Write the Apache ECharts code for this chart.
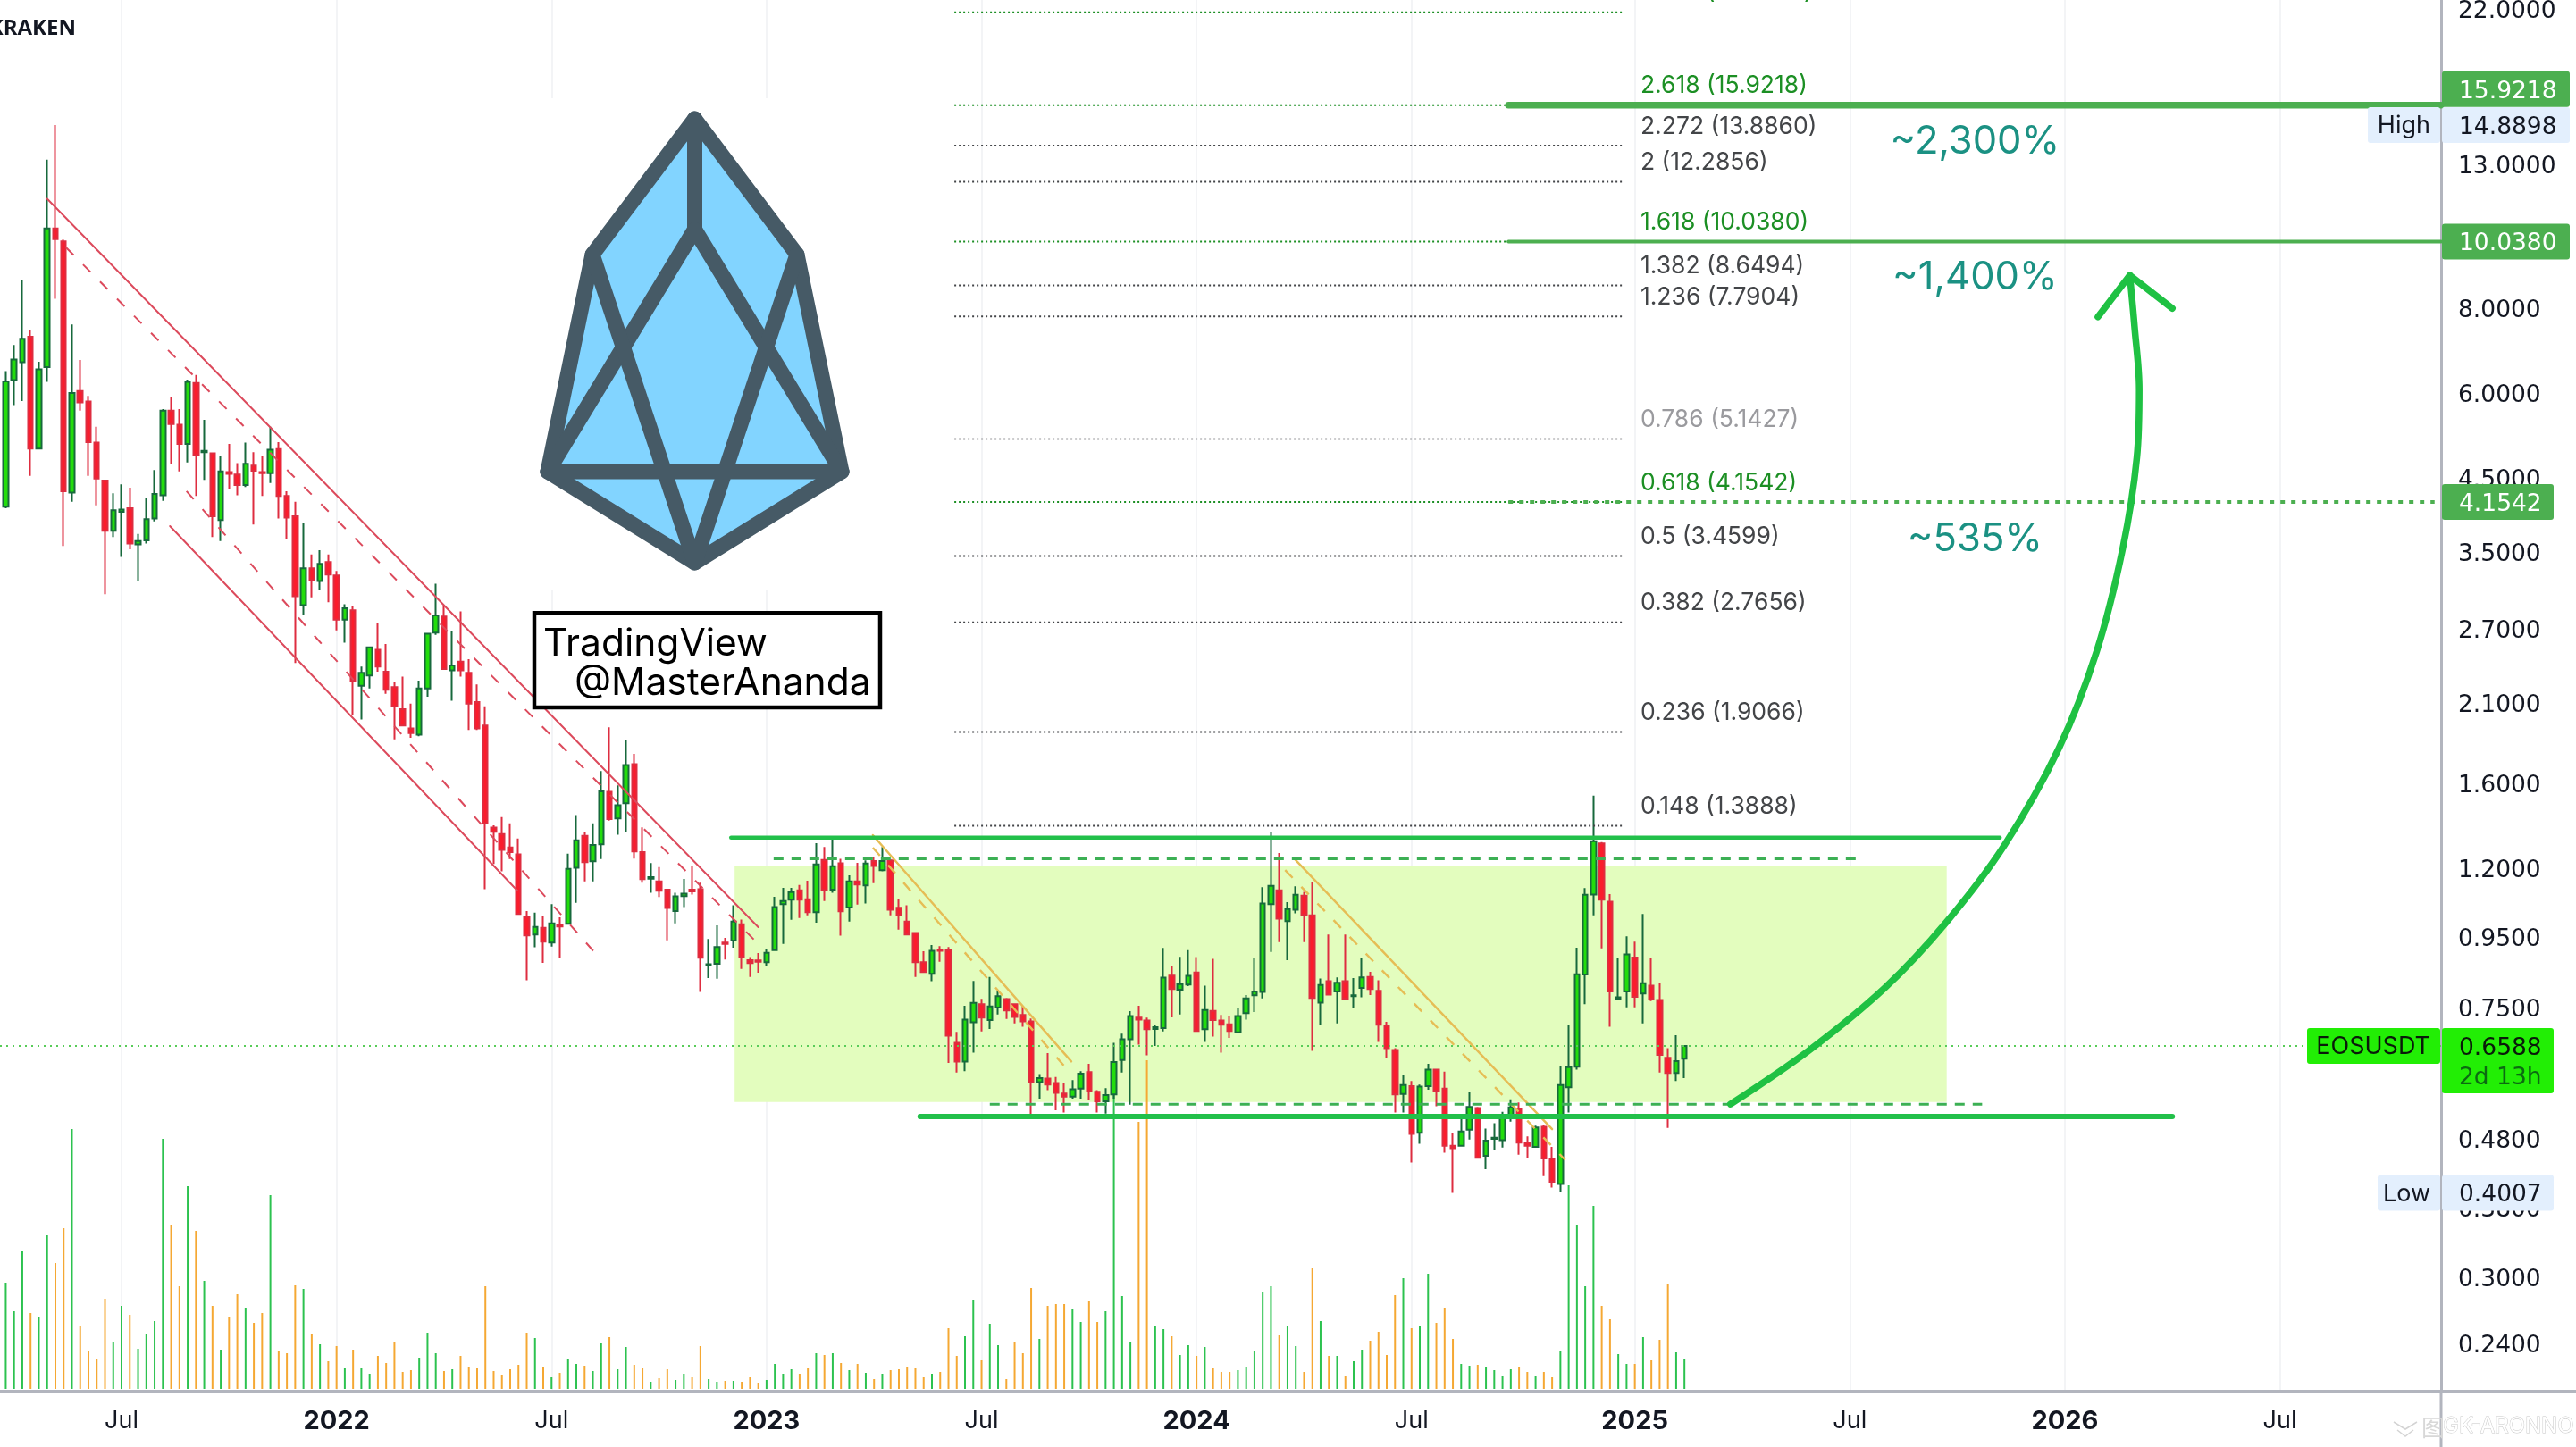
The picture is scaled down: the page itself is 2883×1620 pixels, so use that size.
<!DOCTYPE html>
<html><head><meta charset="utf-8">
<style>html,body{margin:0;padding:0;background:#fff}#c{width:2883px;height:1620px}</style>
<script src="https://cdn.jsdelivr.net/npm/echarts@6/dist/echarts.min.js"></script>
</head><body><div id="c"></div>
<script>
const firstWeek='2021-03-29';
const openP=[4.09,6.28,6.67,7.27,4.98,6.56,10.49,10.04,4.29,6.05,5.84,5.08,4.47,3.77,4.02,4.07,3.60,3.65,3.93,4.25,5.66,5.40,5.06,6.22,4.92,4.90,3.91,4.60,4.56,4.40,4.70,4.60,4.58,4.97,4.24,3.96,2.93,3.32,3.18,3.39,3.24,2.79,2.88,2.23,2.31,2.52,2.34,2.22,2.06,1.93,1.89,2.21,2.67,2.82,2.35,2.42,2.33,2.11,1.95,1.38,1.35,1.29,1.26,1.02,.961,.983,.935,.992,.996,1.204,1.342,1.231,1.304,1.557,1.423,1.498,1.71,1.27,1.161,1.15,1.118,1.04,1.094,1.118,1.12,.865,.87,.935,.941,.995,.881,.88,.875,.911,1.065,1.081,1.116,1.083,1.036,1.237,1.118,1.223,1.053,1.15,1.135,1.232,1.194,1.235,1.052,1.004,.966,.875,.841,.912,.912,.666,.625,.714,.759,.719,.75,.772,.759,.732,.716,.583,.59,.581,.561,.555,.57,.603,.564,.546,.559,.628,.674,.725,.718,.698,.70,.836,.797,.811,.845,.697,.742,.718,.709,.69,.736,.782,.791,1.065,1.116,1.005,1.045,1.096,1.025,.763,.82,.792,.82,.78,.802,.832,.794,.705,.65,.56,.575,.491,.575,.608,.57,.47,.47,.496,.534,.454,.481,.479,.517,.532,.475,.468,.501,.45,.413,.573,.614,.839,1.10,1.308,1.074,.773,.792,.889,.787,.808,.77,.633,.601,.631];
const closeP=[6.25,6.73,7.22,4.98,6.51,10.49,10.12,4.31,6.01,5.82,5.09,4.50,3.77,4.04,4.05,3.61,3.64,3.92,4.27,5.66,5.41,5.06,6.24,4.87,4.94,3.96,4.61,4.57,4.40,4.73,4.62,4.58,4.96,4.24,3.94,3.02,3.32,3.19,3.37,3.25,2.79,2.90,2.27,2.33,2.54,2.38,2.20,2.08,1.95,1.90,2.21,2.66,2.83,2.36,2.39,2.35,2.10,1.93,1.40,1.36,1.28,1.27,1.03,.958,.986,.938,.998,.987,1.20,1.322,1.227,1.301,1.56,1.42,1.488,1.705,1.273,1.159,1.167,1.114,1.051,1.093,1.103,1.112,.888,.869,.921,.931,1.004,.89,.872,.876,.903,1.054,1.076,1.109,1.081,1.036,1.218,1.117,1.211,1.039,1.15,1.138,1.222,1.212,1.232,1.045,1.027,.961,.875,.846,.909,.909,.682,.625,.72,.762,.725,.753,.78,.743,.727,.716,.583,.591,.578,.562,.555,.569,.60,.566,.546,.558,.624,.674,.729,.72,.697,.702,.83,.799,.812,.835,.693,.744,.719,.708,.693,.729,.774,.792,1.067,1.133,1.014,1.047,1.099,1.027,.775,.81,.784,.816,.773,.782,.831,.799,.708,.654,.559,.577,.489,.574,.608,.566,.47,.466,.493,.536,.451,.478,.483,.516,.535,.475,.47,.50,.45,.416,.577,.613,.84,1.099,1.318,1.081,.792,.777,.898,.778,.815,.772,.639,.601,.626,.6588];
const lowP=[4.07,5.77,5.85,4.54,4.98,6.24,8.27,3.58,4.16,5.66,4.54,4.11,3.04,3.69,3.45,3.54,3.18,3.61,3.89,4.17,4.73,4.61,4.75,4.24,4.48,3.69,3.64,4.34,4.25,4.37,3.85,4.24,4.43,3.93,3.66,2.41,2.83,3.01,3.09,2.96,2.69,2.58,2.02,1.99,2.21,2.34,2.17,1.86,1.95,1.87,1.88,2.15,2.65,2.36,2.12,2.30,1.92,1.92,1.12,1.22,1.19,1.24,1.03,.823,.92,.873,.922,.889,.994,1.07,1.15,1.15,1.24,1.413,1.347,1.36,1.242,1.145,1.107,1.091,.942,.998,1.054,1.10,.791,.829,.827,.883,.919,.855,.832,.844,.865,.91,.931,1.01,1.016,1.025,1.00,1.076,1.107,.957,1.004,1.063,1.067,1.143,1.19,1.025,.977,.961,.832,.846,.82,.876,.622,.602,.605,.644,.692,.698,.733,.722,.711,.703,.519,.551,.567,.53,.526,.551,.551,.548,.526,.524,.551,.602,.54,.662,.638,.659,.692,.726,.733,.807,.693,.668,.68,.644,.677,.688,.72,.739,.774,.906,.936,.881,1.032,.936,.648,.707,.782,.711,.773,.749,.777,.783,.668,.633,.526,.526,.444,.473,.568,.537,.459,.4007,.469,.48,.451,.434,.464,.467,.51,.456,.45,.467,.424,.408,.402,.526,.608,.759,1.025,.917,.703,.77,.751,.751,.711,.767,.602,.499,.585,.591];
const highP=[6.47,7.07,8.81,7.44,6.68,13.24,14.89,10.10,7.58,6.72,5.95,5.36,4.47,4.28,4.41,4.36,3.73,4.21,4.63,5.69,5.92,5.69,6.29,6.39,5.49,4.90,4.85,5.06,4.74,5.08,4.92,4.86,5.36,5.09,4.31,4.16,3.87,3.48,3.53,3.48,3.29,2.94,2.92,2.38,2.54,2.76,2.57,2.26,2.30,2.10,2.27,2.66,3.15,2.93,2.68,2.87,2.44,2.24,2.08,1.39,1.43,1.40,1.33,1.04,1.035,1.023,1.065,1.018,1.263,1.44,1.36,1.40,1.671,1.938,1.592,1.856,1.771,1.381,1.224,1.207,1.12,1.107,1.16,1.212,1.145,.946,.991,.95,1.061,1.011,.89,.902,.913,1.092,1.125,1.125,1.136,1.153,1.309,1.292,1.338,1.241,1.174,1.225,1.235,1.247,1.292,1.24,1.085,1.061,.969,.908,.927,.924,.921,.691,.755,.821,.773,.832,.792,.775,.76,.755,.723,.599,.643,.593,.582,.587,.605,.62,.567,.571,.666,.687,.741,.755,.725,.706,.918,.862,.891,.911,.89,.808,.885,.732,.729,.75,.783,.888,1.128,1.357,1.266,1.072,1.131,1.11,1.148,.828,.961,.831,.961,.829,.887,.847,.823,.715,.654,.598,.585,.578,.62,.61,.604,.491,.52,.564,.536,.498,.507,.527,.55,.544,.485,.503,.504,.468,.616,.706,.919,1.124,1.537,1.314,1.102,.889,.955,.938,1.03,.889,.816,.654,.683,.6588];
const volumeV=[357,261,462,255,240,516,423,540,873,213,126,102,303,156,279,249,135,186,228,840,549,345,681,531,363,279,132,243,318,273,222,255,651,129,120,348,336,183,150,93,144,72,132,72,51,111,87,159,57,63,105,189,120,60,66,111,75,69,345,60,48,66,81,189,171,75,39,54,102,84,78,60,153,174,66,141,81,72,24,36,66,30,51,39,144,33,24,27,27,24,39,21,30,84,51,66,51,69,120,114,120,87,63,84,54,33,51,63,66,75,69,39,51,57,204,111,177,300,96,219,147,33,156,120,339,168,279,285,285,267,225,297,225,261,1000,312,156,897,1104,210,201,177,114,147,111,141,69,57,57,63,75,126,327,345,180,210,144,57,405,228,111,111,45,93,132,162,192,114,315,372,204,210,387,222,273,168,84,78,81,75,63,45,66,75,57,45,57,39,129,684,549,345,615,279,234,117,84,84,174,96,165,351,123,99];

const xTickDates=['2021-07-05','2022-01-03','2022-07-04','2023-01-02','2023-07-03','2024-01-01','2024-07-01','2025-01-06','2025-07-07','2026-01-05','2026-07-06'];
const xTickLabels=['Jul','2022','Jul','2023','Jul','2024','Jul','2025','Jul','2026','Jul'];
const yTickValues=[22,13,8,6,4.5,3.5,2.7,2.1,1.6,1.2,0.95,0.75,0.6,0.48,0.38,0.3,0.24];

const fibRatios=['3.618','2.618','2.272','2','1.618','1.382','1.236','0.786','0.618','0.5','0.382','0.236','0.148'];
const fibPrices=[21.8056,15.9218,13.8860,12.2856,10.0380,8.6494,7.7904,5.1427,4.1542,3.4599,2.7656,1.9066,1.3888];
const fibSpan=['2023-06-10','2024-12-26'];
const fibLabelDate='2025-01-10';
const keyStart='2024-09-21', axisEnd='2026-11-19T12:00:00', axisStart='2021-03-24T03:00:00';

const redUpper=[['2021-05-03',11.60],['2022-12-26',.985]];
const redDash1=[['2021-05-19',9.84],['2022-12-24',.938]];
const redDash2=[['2021-08-29',4.31],['2022-08-11',.898]];
const redLower=[['2021-08-15',3.83],['2022-06-05',1.115]];
const goldA=[['2023-04-02',1.345],['2023-09-17',.625]];
const goldADash=[['2023-04-02',1.289],['2023-09-17',.599]];
const goldB=[['2024-03-24',1.241],['2024-10-28',.497]];
const goldBDash=[['2024-03-16',1.195],['2024-11-08',.448]];
const rangeTop=[['2022-12-03',1.334],['2025-11-11',1.334]];
const rangeBottom=[['2023-05-12',.5187],['2026-04-06',.5187]];
const dashTop=[['2023-01-08',1.241],['2025-07-13',1.241]];
const dashBottom=[['2023-07-10',.541],['2025-10-27',.541]];
const zoneBox=['2022-12-06',1.21,'2025-09-27',.545];
const lastPrice=0.6588;
const arrowShaft=[['2025-03-28',.541],['2025-06-03',.650],['2025-08-06',.803],['2025-09-27',1.003],['2025-11-15',1.301],['2025-12-31',1.806],['2026-02-01',2.507],['2026-02-23',3.547],['2026-03-07',4.831],['2026-03-09',6.088],['2026-03-05',7.527],['2026-03-01',8.954]];
const arrowHead=[['2026-02-02',7.779],['2026-03-01',8.954],['2026-04-06',8.006]];
const gainTexts=['~2,300%','~1,400%','~535%'];
const gainPrices=[14.19,8.935,3.694];
const gainDate='2025-10-21';
const tagPrices=[15.9218,14.8898,10.0380,4.1542,0.6588,0.4007];

const T=s=>+new Date(s.length>10?s+'Z':s+'T00:00:00Z');
const t0=T(firstWeek), WEEK=7*864e5;
const pts=a=>a.map(d=>[T(d[0]),d[1]]);
const FONT='Inter, "Noto Sans", sans-serif';
const PRICEFONT='"DejaVu Sans", sans-serif';
const UP='#22dd0c',UPB='#17693c',DN='#fb1c2c',DNB='#de2d40',VUP='#2cc24f',VDN='#f5a833',KEY='#4caf50';

const candles=openP.map((o,i)=>[t0+i*WEEK,o,closeP[i],lowP[i],highP[i]]);
const vols=volumeV.map((v,i)=>({value:[t0+i*WEEK,v],itemStyle:{color:closeP[i]>=openP[i]?VUP:VDN}}));
const tickTs=xTickDates.map(T);
const tickMap={};tickTs.forEach((t,i)=>tickMap[t]=xTickLabels[i]);

function line(data,color,width,type,extra){const dashed=Array.isArray(type);return Object.assign({type:'line',data:pts(data),yAxisIndex:0,showSymbol:false,symbol:'none',silent:true,z:5,animation:false,clip:false,
  lineStyle:{color,width,type:type||'solid',cap:dashed?'butt':'round'}},extra||{});}
const fibCol=i=>['3.618','2.618','1.618','0.618'].includes(fibRatios[i])?'#1c8f24':(fibRatios[i]==='0.786'?'#9a9a9e':'#434548');

const series=[];
series.push({type:'bar',data:vols,yAxisIndex:1,barWidth:2,z:1,silent:true,animation:false});
series.push({type:'custom',z:1,silent:true,clip:false,data:[[T(zoneBox[0]),zoneBox[1],T(zoneBox[2]),zoneBox[3]]],encode:{x:[0,2],y:[1,3]},
 renderItem(p,api){const a=api.coord([api.value(0),api.value(1)]),b=api.coord([api.value(2),api.value(3)]);
  return{type:'rect',shape:{x:a[0],y:a[1],width:b[0]-a[0],height:b[1]-a[1]},style:{fill:'#e3fdbe'}};}});
series.push({type:'candlestick',data:candles,encode:{x:0,y:[1,2,3,4]},barWidth:6,z:3,silent:true,animation:false,
 itemStyle:{color:UP,color0:DN,borderColor:UPB,borderColor0:DNB,borderWidth:2}});
fibPrices.forEach((p,i)=>series.push(line([[fibSpan[0],p],[fibSpan[1],p]],fibCol(i),2,[2,3],{z:4})));
[[redUpper,0],[redLower,0],[redDash1,1],[redDash2,1]].forEach(r=>series.push(line(r[0],'#dc4a5c',2,r[1]?[12,15]:'solid')));
[[goldA,0],[goldB,0],[goldADash,1],[goldBDash,1]].forEach(r=>series.push(line(r[0],'#e6bd55',2.4,r[1]?[12,14]:'solid')));
series.push(line(dashTop,'#3cb054',3,[11,9]));
series.push(line(dashBottom,'#3cb054',3,[11,9]));
series.push(line(rangeTop,'#22c04a',4.5));
series.push(line(rangeBottom,'#22c04a',6));
series.push(line([[axisStart,lastPrice],[axisEnd,lastPrice]],'#58cc58',2,[2,5],{z:4}));
series.push(line([[keyStart,15.9218],[axisEnd,15.9218]],KEY,7.5));
series.push(line([[keyStart,10.0380],[axisEnd,10.0380]],KEY,4));
series.push(line([[keyStart,4.1542],['2026-11-14',4.1542]],KEY,4,[5,7]));
series.push(line(arrowShaft,'#1fc143',7.5,'solid',{smooth:0.35,z:6}));
series.push(line(arrowHead,'#1fc143',7.5,'solid',{z:6}));

series.push({type:'custom',z:7,silent:true,clip:false,data:fibPrices.map(p=>[T(fibLabelDate),p]),encode:{x:0,y:1},
 renderItem(p,api){const c=api.coord([api.value(0),api.value(1)]),i=p.dataIndex;
  return{type:'text',style:{x:c[0]+1,y:c[1]-21.5,text:fibRatios[i]+' ('+fibPrices[i].toFixed(4)+')',fill:fibCol(i),font:'26.5px '+FONT,textAlign:'left',textVerticalAlign:'middle'}};}});
series.push({type:'custom',z:7,silent:true,clip:false,data:gainPrices.map(p=>[T(gainDate),p]),encode:{x:0,y:1},
 renderItem(p,api){const c=api.coord([api.value(0),api.value(1)]);
  return{type:'text',style:{x:c[0],y:c[1]+2.5,text:gainTexts[p.dataIndex],fill:'#1b9183',font:'43.5px '+FONT,textAlign:'center',textVerticalAlign:'middle'}};}});
const tagStyle=[
 {dy:-18,h:40,w:143,fill:KEY,ink:'#fff',text:'15.9218'},
 {dy:0,h:40,w:143,fill:'#e3effd',ink:'#131722',text:'14.8898',side:'High',sideW:82},
 {dy:0,h:40,w:143,fill:KEY,ink:'#fff',text:'10.0380'},
 {dy:0,h:40,w:125,fill:KEY,ink:'#fff',text:'4.1542'},
 {dy:0,h:40,w:125,fill:'#22ee05',ink:'#0a1a0a',text:'0.6588',side:'EOSUSDT',sideW:150,extra:'2d 13h',sideTall:true},
 {dy:0,h:40,w:125,fill:'#e3effd',ink:'#131722',text:'0.4007',side:'Low',sideW:71}];
series.push({type:'custom',z:20,silent:true,clip:false,data:tagPrices.map(p=>[T(axisEnd),p]),encode:{x:0,y:1},
 renderItem(p,api){const s=tagStyle[p.dataIndex],c=api.coord([api.value(0),api.value(1)]),cy=c[1]+s.dy,ax=p.coordSys.x+p.coordSys.width,ch=[];
  ch.push({type:'rect',shape:{x:ax+1,y:cy-20,width:s.w,height:s.extra?73:s.h,r:3},style:{fill:s.fill}});
  ch.push({type:'text',style:{x:ax+20,y:cy+3,text:s.text,fill:s.ink,font:'26.5px '+PRICEFONT,textAlign:'left',textVerticalAlign:'middle'}});
  if(s.extra)ch.push({type:'text',style:{x:ax+20,y:cy+36,text:s.extra,fill:'#0c6a12',font:'26.5px '+PRICEFONT,textAlign:'left',textVerticalAlign:'middle'}});
  if(s.side){ch.push({type:'rect',shape:{x:ax-s.sideW,y:cy-20,width:s.sideW-1,height:s.h,r:3},style:{fill:s.fill}});
   ch.push({type:'text',style:{x:ax-12,y:cy+1,text:s.side,fill:s.ink,font:'27px '+FONT,textAlign:'right',textVerticalAlign:'middle'}});}
  return{type:'group',children:ch};}});

const L=[613,528],R=[942,528],UL=[663,285],UR=[892,285],AP=[777.5,133],CT=[777.5,257],B=[777.5,630];
const logoStroke={stroke:'#465a66',lineWidth:17,lineJoin:'round',lineCap:'round',fill:null};
const graphic=[
 {type:'rect',z:30,shape:{x:580,y:110,width:410,height:551},style:{fill:'#fff'}},
 {type:'polygon',z:31,shape:{points:[L,UL,AP,UR,R,B]},style:{fill:'#82d4ff',stroke:'#465a66',lineWidth:17,lineJoin:'round'}},
 {type:'polyline',z:32,shape:{points:[AP,CT]},style:logoStroke},
 {type:'polyline',z:32,shape:{points:[L,CT,R]},style:logoStroke},
 {type:'polyline',z:32,shape:{points:[UL,B,UR]},style:logoStroke},
 {type:'polyline',z:32,shape:{points:[L,R]},style:logoStroke},
 {type:'rect',z:33,shape:{x:598,y:686.3,width:387,height:105.7},style:{fill:'#fff',stroke:'#000',lineWidth:4.5}},
 {type:'text',z:34,style:{x:608,y:721,text:'TradingView',fill:'#000',font:'42.5px '+FONT,textVerticalAlign:'middle'}},
 {type:'text',z:34,style:{x:643,y:765,text:'@MasterAnanda',fill:'#000',font:'42.5px '+FONT,textVerticalAlign:'middle'}},
 {type:'text',z:34,style:{x:85,y:32,text:'KRAKEN',fill:'#131722',font:'700 24px "Open Sans", sans-serif',textAlign:'right',textVerticalAlign:'middle'}},
 {type:'line',z:15,shape:{x1:2732,y1:1557.5,x2:2883,y2:1557.5},style:{stroke:'#b2b5be',lineWidth:3}},
 {type:'line',z:15,shape:{x1:2732,y1:1557,x2:2732,y2:1620},style:{stroke:'#b2b5be',lineWidth:3}},
 {type:'polyline',z:16,shape:{points:[[2679,1592],[2692,1600],[2705,1592]]},style:{stroke:'#d4d4d4',lineWidth:1.5,fill:null}},
 {type:'polyline',z:16,shape:{points:[[2683,1601],[2692,1608],[2701,1601]]},style:{stroke:'#d4d4d4',lineWidth:1.5,fill:null}},
 {type:'text',z:16,style:{x:2710,y:1598,text:'图',fill:'#d8d8d8',font:'26px "Noto Sans CJK SC"',textVerticalAlign:'middle'}},
 {type:'text',z:16,style:{x:2734,y:1597,text:'GK-ARONNO',fill:'#fff',stroke:'#c8c8c8',lineWidth:1,font:'24px '+FONT,textVerticalAlign:'middle'}}
];

const chart=echarts.init(document.getElementById('c'),null,{renderer:'canvas'});
chart.setOption({
 animation:false,backgroundColor:'#fff',textStyle:{fontFamily:FONT},
 grid:{left:0,top:0,width:2732,height:1557,containLabel:false,outerBoundsMode:'none'},
 xAxis:{type:'value',min:T(axisStart),max:T(axisEnd),scale:true,
  axisLine:{show:true,onZero:false,lineStyle:{color:'#b2b5be',width:3}},
  axisTick:{show:false,customValues:tickTs},
  splitLine:{show:true,lineStyle:{color:'#f3f4f6',width:2}},
  axisLabel:{customValues:tickTs,margin:20,hideOverlap:false,showMinLabel:true,showMaxLabel:true,
   formatter:v=>{const s=tickMap[v]||'';return s==='Jul'?'{m|Jul}':'{y|'+s+'}';},
   rich:{m:{fontSize:27,color:'#131722',fontFamily:FONT},y:{fontSize:29,fontWeight:700,color:'#131722',fontFamily:FONT}}}},
 yAxis:[
  {type:'log',position:'right',min:0.205,max:22.74,logBase:10,
   axisLine:{show:true,onZero:false,lineStyle:{color:'#b2b5be',width:3}},
   axisTick:{show:false},splitLine:{show:false},minorSplitLine:{show:false},
   axisLabel:{customValues:yTickValues,margin:19,showMinLabel:true,showMaxLabel:true,hideOverlap:false,
    formatter:v=>'{p|'+Number(v).toFixed(4)+'}',
    rich:{p:{color:'#131722',fontSize:26.5,fontFamily:PRICEFONT,padding:[5,0,0,0]}}}},
  {type:'value',min:-6,max:4665,show:false,splitLine:{show:false}}
 ],
 series,graphic
});
</script></body></html>
